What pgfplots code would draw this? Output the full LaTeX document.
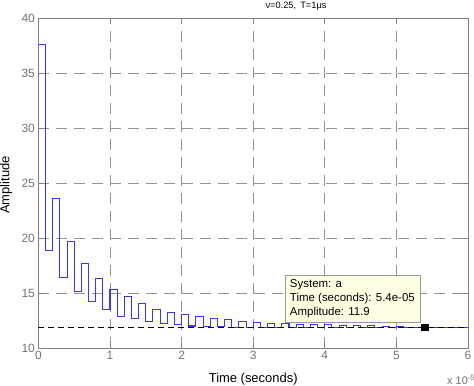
\documentclass[border=0pt]{standalone}
\usepackage{fontspec}
\setmainfont{Liberation Sans}
\usepackage{pgfplots}
\pgfplotsset{compat=1.18}
\usepackage{pgfplotstable}
\definecolor{stairblue}{RGB}{55,55,245}
\definecolor{tipfill}{RGB}{255,255,228}
\pgfplotstableread{
x y
0.0 37.6
0.1 18.83
0.2 23.56
0.3 16.45
0.4 19.67
0.5 15.13
0.6 17.69
0.7 14.26
0.8 16.36
0.9 13.46
1.0 15.34
1.1 12.9
1.2 14.7
1.3 12.65
1.4 14.05
1.5 12.45
1.6 13.5
1.7 12.25
1.8 13.25
1.9 12.1
2.0 13.08
2.1 12.0
2.2 12.88
2.3 11.95
2.4 12.72
2.5 11.92
2.6 12.57
2.7 11.9
2.8 12.44
2.9 11.9
3.0 12.34
3.1 11.9
3.2 12.26
3.3 11.9
3.4 12.21
3.5 11.9
3.6 12.17
3.7 11.9
3.8 12.14
3.9 11.9
4.0 12.11
4.1 11.9
4.2 12.08
4.3 11.9
4.4 12.06
4.5 11.9
4.6 12.03
4.7 11.9
4.8 11.99
4.9 11.9
5.0 11.95
5.1 11.9
5.2 11.9
5.3 11.9
5.4 11.9
5.5 11.9
5.6 11.9
5.7 11.9
5.8 11.9
5.9 11.9
6.0 11.9
}\stepdata
\begin{document}
\begin{tikzpicture}
\begin{axis}[
  at={(0,0)}, anchor=south west,
  width=429.6bp, height=330bp, scale only axis,
  xmin=0, xmax=6, ymin=10, ymax=40,
  xtick={0,1,2,3,4,5,6}, ytick={10,15,20,25,30,35,40},
  scaled ticks=false,
  tick align=inside, major tick length=5bp,
  grid=major,
  major grid style={black!42, dash pattern=on 11bp off 7bp, line width=0.6bp},
  axis line style={black!50, line width=0.6bp},
  tick style={black!50, line width=0.6bp},
  ticklabel style={font=\fontsize{12}{12}\selectfont, text=black!55},
  /pgf/number format/assume math mode=true,
]
\addplot[const plot, draw=stairblue, line width=1.05bp, line join=miter] table[x=x, y=y] {\stepdata};
\addplot[black, dash pattern=on 6bp off 4bp, line width=0.7bp] coordinates {(0,11.9) (6,11.9)};
\node[draw=black!40, fill=tipfill, anchor=south east, align=left,
      font=\fontsize{11.5}{14}\selectfont, inner xsep=5bp, inner ysep=4bp,
      xshift=-5bp, yshift=5bp, line width=0.5bp]
  at (axis cs:5.4,11.9) {System: a\\Time (seconds): 5.4e-05\\Amplitude: 11.9};
\addplot[only marks, mark=square*, mark size=3.4bp, black] coordinates {(5.4,11.9)};
\end{axis}
\node[anchor=base, font=\fontsize{9.3}{9.3}\selectfont] at (257.6bp,339bp) {ν=0.25, \,T=1μs};
\node[anchor=base, font=\fontsize{13}{13}\selectfont] at (214.8bp,-34bp) {Time (seconds)};
\node[rotate=90, anchor=base, font=\fontsize{13}{13}\selectfont] at (-29bp,163bp) {Amplitude};
\node[anchor=base west, text=black!55, font=\fontsize{11}{11}\selectfont, inner sep=0pt] at (408.6bp,-36.5bp) {x 10\textsuperscript{-5}};
\pgfresetboundingbox
\path[use as bounding box] (-38.4bp,-38bp) rectangle (435.6bp,348bp);
\end{tikzpicture}
\end{document}
